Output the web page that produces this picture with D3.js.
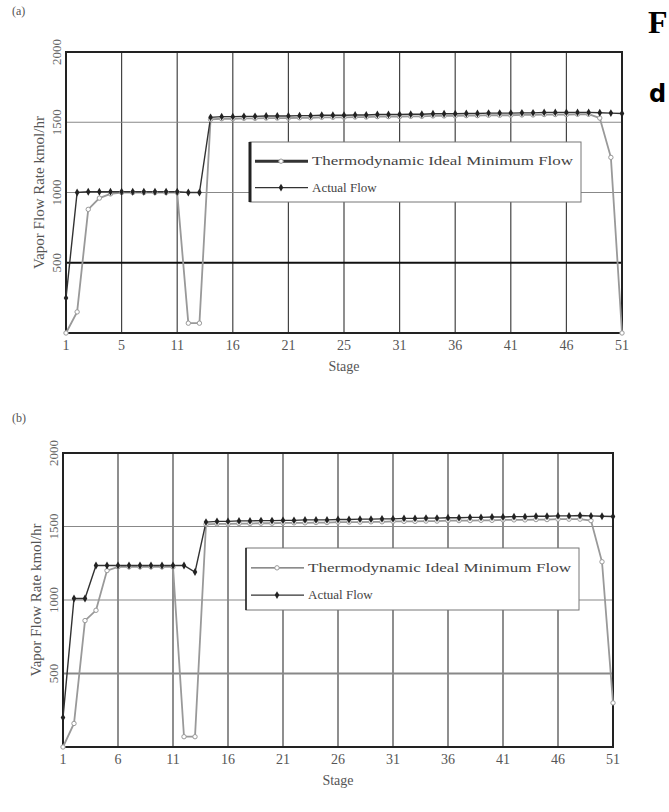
<!DOCTYPE html>
<html><head><meta charset="utf-8">
<script src="https://cdn.jsdelivr.net/npm/d3@7"></script>
<style>body{margin:0;background:#fff}svg{display:block}</style>
</head><body>
<script>
// values, stage 1..51
var stages = d3.range(1, 52);
var idealA = [0,150,880,960,990,1000,1000,1000,1000,1000,1000,70,70,
  1520,1525,1525,1528,1528,1530,1530,1530,1532,1532,1535,1535,1535,1537,1537,1540,1540,1540,1542,1542,1545,1545,1545,1547,1547,1550,1550,1550,1552,1552,1555,1555,1555,1557,1557,
  1530,1250,0];
var actualA = [250,1000,1005,1005,1005,1005,1005,1005,1005,1005,1005,1000,1000,
  1535,1540,1540,1542,1542,1545,1545,1545,1547,1547,1550,1550,1550,1552,1552,1555,1555,1555,1557,1557,1560,1560,1560,1562,1562,1565,1565,1565,1567,1567,1570,1570,1570,1570,1570,1568,1565,1562];
var idealB = [0,160,860,930,1200,1225,1225,1225,1225,1225,1225,70,70,
  1515,1518,1518,1520,1520,1522,1522,1525,1525,1525,1527,1527,1530,1530,1530,1532,1532,1535,1535,1535,1537,1537,1540,1540,1540,1542,1542,1545,1545,1545,1547,1547,1550,1550,1550,
  1540,1260,300];
var actualB = [200,1010,1010,1235,1235,1235,1235,1235,1235,1235,1235,1235,1190,
  1530,1535,1535,1538,1538,1540,1540,1542,1542,1545,1545,1545,1548,1548,1550,1550,1552,1552,1555,1555,1557,1557,1560,1560,1562,1562,1565,1565,1567,1567,1570,1570,1572,1572,1575,1572,1570,1568];
var xTicks = [1,6,11,16,21,26,31,36,41,46,51];
var xLabelsA = ["1","5","11","16","21","25","31","36","41","46","51"];
var xLabelsB = ["1","6","11","16","21","26","31","36","41","46","51"];
var yTicks = [500,1000,1500,2000];
var yLabels = ["500","1000","1500","2000"];
var seriesNames = ["Thermodynamic Ideal Minimum Flow", "Actual Flow"];

var svg = d3.select("body").append("svg").attr("width", 669).attr("height", 812);
var font = "'Liberation Serif', serif";

svg.append("text").attr("x", 648).attr("y", 33).attr("font-family", font)
  .attr("font-weight", "bold").attr("font-size", 32).text("F");
svg.append("text").attr("x", 649).attr("y", 102).attr("font-family", "'DejaVu Sans', sans-serif")
  .attr("font-weight", "bold").attr("font-size", 24).text("d");

function panel(o) {
  var x = d3.scaleLinear().domain([1, 51]).range([o.left, o.right]);
  var y = d3.scaleLinear().domain([0, 2000]).range([o.bottom, o.top]);
  var g = svg.append("g");
  g.append("text").attr("x", 12).attr("y", o.tag[1]).attr("font-family", font)
    .attr("font-size", 12).attr("fill", "#555").text(o.tag[0]);

  // grid
  g.selectAll(".vg").data(xTicks).join("line")
    .attr("x1", d => x(d)).attr("x2", d => x(d)).attr("y1", o.top).attr("y2", o.bottom)
    .attr("stroke", "#444").attr("stroke-width", 1.2);
  g.selectAll(".hg").data(yTicks.slice(0, 3)).join("line")
    .attr("x1", o.left).attr("x2", o.right).attr("y1", d => y(d)).attr("y2", d => y(d))
    .attr("stroke", (d, i) => i === 0 ? o.c500 : "#888").attr("stroke-width", (d, i) => i === 0 ? 1.8 : 1.2);
  g.append("rect").attr("x", o.left).attr("y", o.top).attr("width", o.right - o.left)
    .attr("height", o.bottom - o.top).attr("fill", "none").attr("stroke", "#222").attr("stroke-width", 2);

  g.selectAll(".xl").data(xTicks).join("text")
    .attr("x", d => x(d)).attr("y", o.bottom + 17).attr("text-anchor", "middle")
    .attr("font-family", font).attr("font-size", 14).attr("fill", "#555")
    .text((d, i) => o.xl[i]);
  g.append("text").attr("x", (o.left + o.right) / 2).attr("y", o.bottom + 38).attr("text-anchor", "middle")
    .attr("font-family", font).attr("font-size", 14).attr("fill", "#555").text("Stage");
  g.selectAll(".yl").data(yTicks).join("text")
    .attr("transform", d => "translate(" + (o.left - 5) + "," + y(d) + ") rotate(-90)")
    .attr("text-anchor", "middle").attr("font-family", font).attr("font-size", 13).attr("fill", "#666")
    .text((d, i) => yLabels[i]);
  g.append("text").attr("transform", "translate(" + (o.left - 22) + "," + ((o.top + o.bottom) / 2) + ") rotate(-90)")
    .attr("text-anchor", "middle").attr("font-family", font).attr("font-size", 15).attr("fill", "#555")
    .text(o.ytitle);

  var line = d3.line().x((d, i) => x(stages[i])).y(d => y(d));
  g.append("path").datum(o.ideal).attr("d", line).attr("fill", "none").attr("stroke", "#999").attr("stroke-width", 1.8);
  g.append("path").datum(o.actual).attr("d", line).attr("fill", "none").attr("stroke", "#333").attr("stroke-width", 1.4);
  g.selectAll(".ci").data(o.ideal).join("circle").attr("cx", (d, i) => x(stages[i])).attr("cy", d => y(d))
    .attr("r", 2.2).attr("fill", "#fff").attr("stroke", "#999");
  var sym = d3.symbol().type(d3.symbolDiamond).size(18);
  g.selectAll(".ca").data(o.actual).join("path").attr("d", sym)
    .attr("transform", (d, i) => "translate(" + x(stages[i]) + "," + y(d) + ")").attr("fill", "#222");

  // legend
  var L = o.legend;
  g.append("rect").attr("x", L.x).attr("y", L.y).attr("width", L.w).attr("height", L.h)
    .attr("fill", "#fff").attr("stroke", "#777");
  g.append("line").attr("x1", L.x).attr("x2", L.x).attr("y1", L.y).attr("y2", L.y + L.h)
    .attr("stroke", "#222").attr("stroke-width", o.thickLeft);
  seriesNames.forEach(function(n, i) {
    var yy = L.y + (i === 0 ? 0.32 : 0.76) * L.h;
    g.append("line").attr("x1", L.x + 5).attr("x2", L.x + 58).attr("y1", yy).attr("y2", yy)
      .attr("stroke", i === 0 ? o.legIdeal : "#333").attr("stroke-width", i === 0 ? o.legIdealW : 1.4);
    if (i === 0) g.append("circle").attr("cx", L.x + 31).attr("cy", yy).attr("r", 2.2).attr("fill", "#fff").attr("stroke", "#999");
    else g.append("path").attr("d", sym).attr("transform", "translate(" + (L.x + 31) + "," + yy + ")").attr("fill", "#222");
    g.append("text").attr("x", L.x + 62).attr("y", yy + 4).attr("font-family", font)
      .attr("font-size", 13).attr("fill", "#444").attr("textLength", i === 0 ? L.w - 70 : null)
      .attr("lengthAdjust", "spacingAndGlyphs")
      .text(n);
  });
}

panel({left: 66, right: 622, top: 52, bottom: 333, tag: ["(a)", 15], xl: xLabelsA,
  ytitle: "Vapor Flow Rate kmol/hr", ideal: idealA, actual: actualA, c500: "#111",
  legend: {x: 250, y: 142, w: 331, h: 60}, thickLeft: 3, legIdeal: "#333", legIdealW: 3});
panel({left: 63, right: 613, top: 453, bottom: 747, tag: ["(b)", 422], xl: xLabelsB,
  ytitle: "Vapor Flow Rate kmol/hr", ideal: idealB, actual: actualB, c500: "#888",
  legend: {x: 246, y: 548, w: 333, h: 62}, thickLeft: 1.5, legIdeal: "#666", legIdealW: 1.4});
</script>
</body></html>
